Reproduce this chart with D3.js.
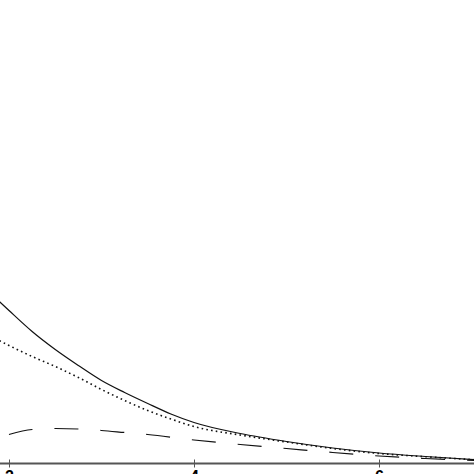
<!doctype html>
<html lang="en">
  <head>
    <meta charset="utf-8">
    <title>Curves</title>
    <script src="https://cdn.jsdelivr.net/npm/d3@7"></script>
    <style>
      html, body { margin: 0; padding: 0; background: #fff; }
      svg { display: block; }
    </style>
  </head>
  <body>
    <svg id="chart" width="474" height="474"></svg>
    <script>
      // values (y in arbitrary units, 0 = axis)
      var solidX = [1.85, 2.0, 2.25, 2.5, 2.75, 3.0, 3.25, 3.5, 3.75, 4.0, 4.5, 5.0, 5.5, 6.0, 6.5, 7.1];
      var solidY = [1.66, 1.53, 1.32, 1.14, 0.98, 0.83, 0.71, 0.60, 0.495, 0.41, 0.30, 0.22, 0.155, 0.105, 0.07, 0.035];

      var dottedX = [1.85, 2.0, 2.25, 2.5, 2.75, 3.0, 3.25, 3.5, 3.75, 4.0, 4.5, 5.0, 5.5, 6.0, 6.5, 7.1];
      var dottedY = [1.25, 1.18, 1.07, 0.97, 0.86, 0.74, 0.63, 0.53, 0.445, 0.37, 0.285, 0.215, 0.15, 0.10, 0.068, 0.034];

      var dashedX = [2.0, 2.25, 2.5, 2.75, 3.0, 3.25, 3.5, 4.0, 4.5, 5.0, 5.5, 6.0, 6.5, 7.1];
      var dashedY = [0.29, 0.34, 0.35, 0.345, 0.33, 0.31, 0.29, 0.235, 0.19, 0.15, 0.11, 0.075, 0.05, 0.03];

      var xTicks = [2, 4, 6];

      var width = 474;
      var axisY = 463.5;

      var svg = d3.select("#chart");

      var x = d3.scaleLinear()
          .domain([2, 6])
          .range([9, 379]);
      var y = d3.scaleLinear()
          .domain([0, 1])
          .range([axisY, axisY - 100]);

      function zip(xs, ys) {
          return xs.map(function (v, i) { return [v, ys[i]]; });
      }

      var line = d3.line()
          .x(function (d) { return x(d[0]); })
          .y(function (d) { return y(d[1]); })
          .curve(d3.curveMonotoneX);

      // axis: full-width gray line, ticks crossing it, labels cut by the bottom edge
      var axis = svg.append("g")
          .attr("transform", "translate(0," + axisY + ")")
          .call(d3.axisBottom(x)
              .tickValues(xTicks)
              .tickFormat(d3.format("d"))
              .tickSizeOuter(0)
              .tickSizeInner(4)
              .tickPadding(3));
      axis.select(".domain").remove();
      axis.insert("line", ":first-child")
          .attr("x1", 0)
          .attr("x2", width)
          .attr("stroke", "#555")
          .attr("stroke-width", 1.8);
      axis.selectAll(".tick line")
          .attr("y1", -4)
          .attr("y2", 4)
          .attr("stroke", "#555")
          .attr("stroke-width", 1);
      axis.selectAll(".tick text")
          .attr("fill", "#000")
          .style("font-family", "'Liberation Sans', Arial, sans-serif")
          .style("font-size", "16px")
          .style("font-weight", "bold");

      svg.append("path")
          .datum(zip(solidX, solidY))
          .attr("d", line)
          .attr("fill", "none")
          .attr("stroke", "#111")
          .attr("stroke-width", 1.2);

      svg.append("path")
          .datum(zip(dottedX, dottedY))
          .attr("d", line)
          .attr("fill", "none")
          .attr("stroke", "#111")
          .attr("stroke-width", 1.6)
          .attr("stroke-dasharray", "1.6,3.2");

      svg.append("path")
          .datum(zip(dashedX, dashedY))
          .attr("d", line)
          .attr("fill", "none")
          .attr("stroke", "#111")
          .attr("stroke-width", 1.2)
          .attr("stroke-dasharray", "24,22");
    </script>
  </body>
</html>
